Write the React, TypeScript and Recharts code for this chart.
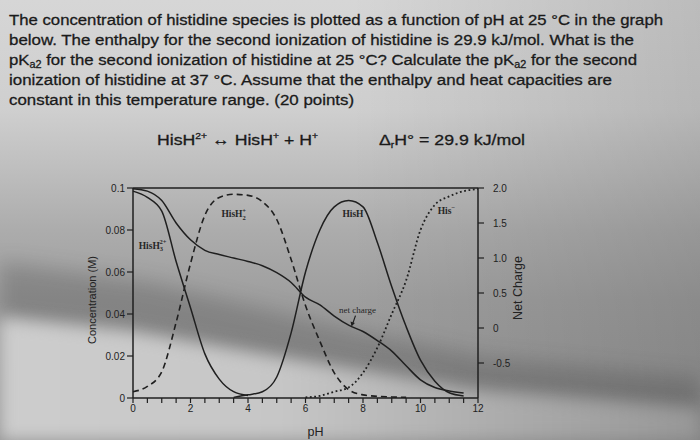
import React from 'react';
import { ComposedChart, Line, XAxis, YAxis, ReferenceLine, ReferenceDot } from 'recharts';

// pH grid and species concentrations (M), 0.1 M total histidine at 25 °C
const phValues = [0, 0.5, 1, 1.5, 2, 2.5, 3, 3.5, 4, 4.5, 5, 5.5, 6, 6.5, 7, 7.5, 8, 8.5, 9, 9.5, 10, 10.5, 11, 11.5, 12];
const hisH3 = [0.0985, 0.0955, 0.089, 0.065, 0.043, 0.021, 0.009, 0.003, 0.0012, null, null, null, null, null, null, null, null, null, null, null, null, null, null, null, null];
const hisH2 = [0.003, 0.0055, 0.0125, 0.036, 0.064, 0.087, 0.0955, 0.097, 0.0965, 0.0935, 0.085, 0.066, 0.044, 0.027, 0.012, 0.004, 0.0015, 0.0008, 0.0005, 0.0003, null, null, null, null, null];
const hisH = [null, null, null, null, null, null, null, 0.0003, 0.0015, 0.003, 0.01, 0.031, 0.06, 0.08, 0.091, 0.094, 0.091, 0.074, 0.053, 0.034, 0.018, 0.008, 0.0025, 0.001, null];
const hisMinus = [null, null, null, null, null, null, null, null, null, null, null, null, 0.0003, 0.001, 0.003, 0.005, 0.012, 0.024, 0.04, 0.056, 0.08, 0.092, 0.096, 0.0985, 0.0995];
const netCharge = [1.99, 1.955, 1.82, 1.5, 1.26, 1.11, 1.05, 1.0, 0.95, 0.89, 0.79, 0.65, 0.44, 0.33, 0.17, 0.04, -0.05, -0.18, -0.33, -0.54, -0.74, -0.85, -0.9, -0.93, null];

const phTicks = [0, 0.5, 1, 1.5, 2, 2.5, 3, 3.5, 4, 4.5, 5, 5.5, 6, 6.5, 7, 7.5, 8, 8.5, 9, 9.5, 10, 10.5, 11, 11.5, 12];
const concTicks = [0, 0.02, 0.04, 0.06, 0.08, 0.1];
const chargeTicks = [-0.5, 0, 0.5, 1, 1.5, 2];

const data = phValues.map((ph, i) => ({
  ph,
  hisH3: hisH3[i],
  hisH2: hisH2[i],
  hisH: hisH[i],
  his: hisMinus[i],
  charge: netCharge[i],
}));

const SANS = '"Liberation Sans", Arial, Helvetica, sans-serif';
const SERIF = '"Liberation Serif", "Times New Roman", serif';
const INK = '#1f1f1f';
const LABEL = '#222';

const fmtPh = (v: number) => (v % 2 === 0 ? String(v) : '');
const fmtConc = (v: number) => (v === 0 ? '0' : String(v));
const fmtCharge = (v: number) => (v === 0 ? '0' : v.toFixed(1));

const VerticalTitle = ({ viewBox, text, dx, dy = 0, size }: any) => {
  const vb = viewBox || { x: 0, y: 0, width: 0, height: 0 };
  const cx = vb.x + dx;
  const cy = vb.y + vb.height / 2 + dy;
  return (
    <text x={cx} y={cy} transform={`rotate(-90 ${cx} ${cy})`} textAnchor="middle" fontFamily={SANS} fontSize={size} fill={LABEL}>
      {text}
    </text>
  );
};

const BottomTitle = ({ viewBox }: any) => {
  const vb = viewBox || { x: 0, y: 0, width: 0, height: 0 };
  return (
    <text x={vb.x + vb.width / 2 + 10} y={vb.y + 38} textAnchor="middle" fontFamily={SANS} fontSize={12.5} fill={LABEL}>
      pH
    </text>
  );
};

// species name drawn at a data point, with optional stacked sub/superscripts
const SpeciesTag = ({ cx, cy, main, sub, sup }: any) => (
  <text x={cx} y={cy} textAnchor="middle" fontFamily={SERIF} fontSize={9.5} fontWeight="bold" fill="#262626">
    {main}
    {sub ? <tspan fontSize={6.5} dy={2.5}>{sub}</tspan> : null}
    {sup ? (
      <tspan fontSize={6.5} dx={sub ? -3.6 : 0} dy={sub ? -7 : -4}>
        {sup}
      </tspan>
    ) : null}
  </text>
);

const NetChargeNote = ({ cx, cy }: any) => (
  <g>
    <text x={cx + 6} y={cy - 14} textAnchor="middle" fontFamily={SERIF} fontSize={9} fill="#262626">
      net charge
    </text>
    <line x1={cx + 4} y1={cy - 11} x2={cx + 1.2} y2={cy - 3} stroke={INK} strokeWidth={1.2} />
    <path d={`M ${cx} ${cy} L ${cx - 1} ${cy - 5} L ${cx + 3.4} ${cy - 3.6} Z`} fill={INK} />
  </g>
);

const Backdrop = () => (
  <>
    <div
      style={{
        position: 'absolute',
        inset: 0,
        background:
          'linear-gradient(180deg, #d6d6d6 0px, #cfcfcf 110px, #bebebe 170px, #acacac 230px, #9e9e9e 300px, #949494 440px)',
      }}
    />
    <div
      style={{
        position: 'absolute',
        inset: 0,
        background: 'linear-gradient(90deg, rgba(0,0,0,0) 50%, rgba(0,0,0,0.12) 100%)',
      }}
    />
    <div style={{ position: 'absolute', inset: 0, filter: 'blur(10px)' }}>
      <div
        style={{
          position: 'absolute',
          inset: 0,
          background: 'rgba(40,40,40,0.22)',
          clipPath:
            'polygon(0 262px, 150px 282px, 320px 322px, 480px 356px, 700px 378px, 700px 410px, 480px 392px, 300px 362px, 130px 332px, 0 318px)',
        }}
      />
    </div>
    <div style={{ position: 'absolute', inset: 0, filter: 'blur(8px)' }}>
      <div
        style={{
          position: 'absolute',
          inset: 0,
          background: 'linear-gradient(90deg, #cdcdcd 0%, #c6c6c6 40%, #adadad 70%, #979797 100%)',
          clipPath: 'polygon(0 318px, 130px 332px, 300px 362px, 480px 392px, 700px 410px, 700px 460px, 0 460px)',
        }}
      />
    </div>
  </>
);

const Question = () => (
  <svg width={700} height={440} style={{ position: 'absolute', left: 0, top: 0, pointerEvents: 'none' }}>
    <g fontFamily={SANS} fontSize={15.5} fill="#1a1a1a" stroke="#1a1a1a" strokeWidth={0.3}>
      <text x={9} y={25} textLength={654} lengthAdjust="spacingAndGlyphs">
        The concentration of histidine species is plotted as a function of pH at 25 °C in the graph
      </text>
      <text x={9} y={45} textLength={625} lengthAdjust="spacingAndGlyphs">
        below. The enthalpy for the second ionization of histidine is 29.9 kJ/mol. What is the
      </text>
      <text x={9} y={65} textLength={628} lengthAdjust="spacingAndGlyphs">
        pK<tspan fontSize={10} dy={3}>a2</tspan>
        <tspan dy={-3}> for the second ionization of histidine at 25 °C? Calculate the pK</tspan>
        <tspan fontSize={10} dy={3}>a2</tspan>
        <tspan dy={-3}> for the second</tspan>
      </text>
      <text x={9} y={85} textLength={603} lengthAdjust="spacingAndGlyphs">
        ionization of histidine at 37 °C.  Assume that the enthalpy and heat capacities are
      </text>
      <text x={9} y={105} textLength={345} lengthAdjust="spacingAndGlyphs">
        constant in this temperature range.  (20 points)
      </text>
      <text x={157} y={145} textLength={161} lengthAdjust="spacingAndGlyphs">
        HisH<tspan fontSize={9} dy={-6}>2+</tspan>
        <tspan dy={6}> ↔ HisH</tspan>
        <tspan fontSize={9} dy={-6}>+</tspan>
        <tspan dy={6}> + H</tspan>
        <tspan fontSize={9} dy={-6}>+</tspan>
      </text>
      <text x={379} y={145} textLength={146} lengthAdjust="spacingAndGlyphs">
        Δ<tspan fontSize={9} dy={3}>r</tspan>
        <tspan dy={-3}>H° = 29.9 kJ/mol</tspan>
      </text>
    </g>
  </svg>
);

const tickStyle = { fill: LABEL, fontSize: 10, fontFamily: SANS };

export default function App() {
  return (
    <div style={{ position: 'absolute', left: 0, top: 0, width: 700, height: 440, overflow: 'hidden' }}>
      <Backdrop />
      <div style={{ position: 'absolute', left: 0, top: 0 }}>
        <ComposedChart width={700} height={440} data={data} margin={{ top: 188, right: 182, bottom: 12, left: 88 }}>
          <XAxis
            dataKey="ph"
            type="number"
            domain={[0, 12]}
            ticks={phTicks}
            interval={0}
            tickFormatter={fmtPh}
            height={30}
            tickSize={5}
            axisLine={{ stroke: INK, strokeWidth: 1.5 }}
            tickLine={{ stroke: INK, strokeWidth: 1.2 }}
            tick={tickStyle}
            label={<BottomTitle />}
          />
          <YAxis
            yAxisId="conc"
            domain={[0, 0.1]}
            ticks={concTicks}
            interval={0}
            tickFormatter={fmtConc}
            width={45}
            tickSize={6}
            axisLine={{ stroke: INK, strokeWidth: 1.5 }}
            tickLine={{ stroke: INK, strokeWidth: 1.2 }}
            tick={tickStyle}
            label={<VerticalTitle text="Concentration (M)" dx={8} dy={7} size={11} />}
          />
          <YAxis
            yAxisId="charge"
            orientation="right"
            domain={[-1, 2]}
            ticks={chargeTicks}
            interval={0}
            tickFormatter={fmtCharge}
            width={40}
            tickSize={6}
            tickMargin={9}
            axisLine={{ stroke: INK, strokeWidth: 1.5 }}
            tickLine={{ stroke: INK, strokeWidth: 1.2 }}
            tick={tickStyle}
            label={<VerticalTitle text="Net Charge" dx={44} dy={-5} size={12.5} />}
          />
          <ReferenceLine yAxisId="conc" y={0.1} stroke={INK} strokeWidth={1.5} />

          <Line yAxisId="conc" dataKey="hisH3" type="monotone" stroke={INK} strokeWidth={1.5} dot={false} isAnimationActive={false} />
          <Line yAxisId="conc" dataKey="hisH2" type="monotone" stroke={INK} strokeWidth={1.6} strokeDasharray="6 4" dot={false} isAnimationActive={false} />
          <Line yAxisId="conc" dataKey="hisH" type="monotone" stroke={INK} strokeWidth={1.5} dot={false} isAnimationActive={false} />
          <Line yAxisId="conc" dataKey="his" type="monotone" stroke={INK} strokeWidth={1.8} strokeDasharray="1.8 2.6" dot={false} isAnimationActive={false} />
          <Line yAxisId="charge" dataKey="charge" type="monotone" stroke={INK} strokeWidth={1.5} dot={false} isAnimationActive={false} />

          <ReferenceDot yAxisId="conc" x={0.68} y={0.071} r={0} shape={<SpeciesTag main="HisH" sub="3" sup="2+" />} />
          <ReferenceDot yAxisId="conc" x={3.5} y={0.086} r={0} shape={<SpeciesTag main="HisH" sub="2" sup="+" />} />
          <ReferenceDot yAxisId="conc" x={7.65} y={0.0862} r={0} shape={<SpeciesTag main="HisH" />} />
          <ReferenceDot yAxisId="conc" x={10.9} y={0.0876} r={0} shape={<SpeciesTag main="His" sup="−" />} />
          <ReferenceDot yAxisId="conc" x={7.6} y={0.034} r={0} shape={<NetChargeNote />} />
        </ComposedChart>
      </div>
      <Question />
    </div>
  );
}
